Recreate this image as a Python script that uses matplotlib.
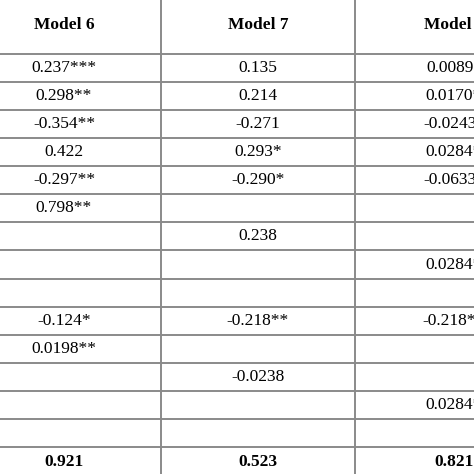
import matplotlib
matplotlib.use("Agg")
import matplotlib.pyplot as plt

headers = ["Model 6", "Model 7", "Model 8"]
model6 = ["0.237***", "0.298**", "-0.354**", "0.422", "-0.297**", "0.798**", "", "", "",
          "-0.124*", "0.0198**", "", "", ""]
model7 = ["0.135", "0.214", "-0.271", "0.293*", "-0.290*", "", "0.238", "", "",
          "-0.218**", "", "-0.0238", "", ""]
model8 = ["0.00891", "0.0170*", "-0.0243*", "0.0284*", "-0.0633*", "", "", "0.0284*", "",
          "-0.218**", "", "", "0.0284*", ""]
r2 = ["0.921", "0.523", "0.821"]

fig = plt.figure(figsize=(4.74, 4.74), dpi=100)
ax = fig.add_axes([0, 0, 1, 1])
ax.set_xlim(0, 474)
ax.set_ylim(474, 0)
ax.axis("off")

col_centers = [64, 258, 454]
col_lines = [161, 355]
top = 54
rh = 28.07
n = len(model6)
lc = "#8a8a8a"
font = "Liberation Serif"
fs = 12.5

for x in col_lines:
    ax.plot([x, x], [0, 474], color=lc, lw=1.4)
for i in range(n + 1):
    y = top + i * rh
    ax.plot([0, 474], [y, y], color=lc, lw=1.4)

for c, h in zip(col_centers, headers):
    ax.text(c, 25, h, ha="center", va="center", fontsize=fs, fontweight="bold",
            family=font, clip_on=True)

for j, col in enumerate([model6, model7, model8]):
    for i, v in enumerate(col):
        if v:
            ax.text(col_centers[j], top + (i + 0.5) * rh, v, ha="center", va="center",
                    fontsize=fs, family=font, clip_on=True)

for c, v in zip(col_centers, r2):
    ax.text(c, top + (n + 0.55) * rh, v, ha="center", va="center", fontsize=fs,
            fontweight="bold", family=font, clip_on=True)

fig.savefig("out.png", dpi=100, facecolor="white")
